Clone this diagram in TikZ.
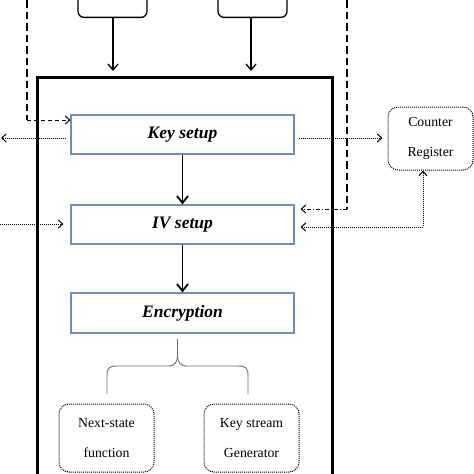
\documentclass[tikz,border=0pt]{standalone}
\usepackage{fontspec}
\setmainfont{Liberation Serif}
\usetikzlibrary{arrows.meta}
\definecolor{boxblue}{RGB}{110,140,190}
\definecolor{bracegrey}{RGB}{110,110,110}
\begin{document}
\begin{tikzpicture}[x=1pt,y=-1pt,
  blk/.style={draw=boxblue,line width=1.1pt,minimum width=223pt,minimum height=39pt,
    font=\fontsize{17.5}{20}\selectfont\bfseries\itshape,inner sep=0pt},
  topbox/.style={draw,line width=1.3pt,rounded corners=6pt,minimum width=69pt,minimum height=40pt,anchor=south},
  dotbox/.style={draw,densely dotted,line width=1pt,rounded corners=10pt,align=center,inner sep=0pt,
    font=\fontsize{13.8}{30}\selectfont},
  solidarrow/.style={line width=1.3pt,-{Straight Barb[length=6pt,width=10pt,line width=1.3pt]}},
  thickarrow/.style={line width=1.8pt,-{Straight Barb[length=7pt,width=11pt,line width=1.8pt]}},
  smalltip/.tip={Straight Barb[length=4.5pt,width=8pt,line width=1pt]},
  dotarrow/.style={densely dotted,line width=1pt,-smalltip},
  bigdash/.style={line width=1.9pt,dash pattern=on 7.5pt off 4pt},
  smalldash/.style={line width=1pt,dash pattern=on 4pt off 3pt,-smalltip},
  dashdotarrow/.style={line width=1pt,dash pattern=on 4pt off 2pt on 1pt off 2pt,-smalltip}
]
\useasboundingbox (0,0) rectangle (474,474);
\clip (0,0) rectangle (474,474);

% top boxes
\node[topbox] (t1) at (112.5,18) {};
\node[topbox] (t2) at (252.5,18) {};
\coordinate (t1e) at (113,71);
\coordinate (t2e) at (251,71);
\draw[solidarrow] (t1.south -| t1e) -- (t1e);
\draw[solidarrow] (t2.south -| t2e) -- (t2e);

% main frame
\draw[line width=3pt] (37,77) rectangle (332,495);

% blocks
\node[blk] (key) at (182.5,134.5) {Key setup};
\node[blk] (iv) at (182.5,224.5) {IV setup};
\node[blk,minimum height=40pt] (enc) at (182.5,313) {Encryption};

\draw[thickarrow] (key.south) -- (iv.north);
\draw[thickarrow] (iv.south) -- (enc.north);

% counter register
\node[dotbox,minimum width=85pt,minimum height=63pt] (cr) at (430.5,138.5) {Counter\\Register};

% bottom boxes
\node[dotbox,minimum width=95pt,minimum height=68pt] (ns) at (106.5,438) {Next-state\\function};
\node[dotbox,minimum width=95pt,minimum height=68pt] (ks) at (251.5,438) {Key stream\\Generator};

% outer dashed lines
\coordinate (dl) at (27,0);
\coordinate (dlc) at (27,120);
\coordinate (dr) at (347,0);
\coordinate (drc) at (347,209);
\draw[bigdash] (dl) -- (dlc);
\draw[smalldash] (dlc) -- (dlc -| key.west);
\draw[bigdash] (dr) -- (drc);
\draw[dashdotarrow,shorten >=6pt] (drc) -- (drc -| iv.east);

% dotted connectors
\coordinate (outL) at (1,138);
\coordinate (inL) at (0,224);
\draw[dotarrow,shorten <=4pt] (key.west |- outL) -- (outL);
\draw[dotarrow,shorten <=4pt,shorten >=5pt] (key.east |- outL) -- (cr.west |- outL);
\draw[dotarrow,shorten >=7pt] (inL) -- (iv.west |- inL);
\draw[dotarrow,smalltip-smalltip,shorten <=6pt]
  ([yshift=-2.5pt]iv.east) -| ([xshift=-7.5pt]cr.south);

% brace
\draw[bracegrey,line width=0.9pt]
  (107,394) -- (107,376) .. controls (107,368) and (109,366) .. (117,366) -- (168,366)
  .. controls (175,366) and (177.5,362) .. (177.5,355) -- (177.5,339);
\draw[bracegrey,line width=0.9pt]
  (248,394) -- (248,376) .. controls (248,368) and (246,366) .. (238,366) -- (187,366)
  .. controls (180,366) and (177.5,362) .. (177.5,355);
\end{tikzpicture}
\end{document}
